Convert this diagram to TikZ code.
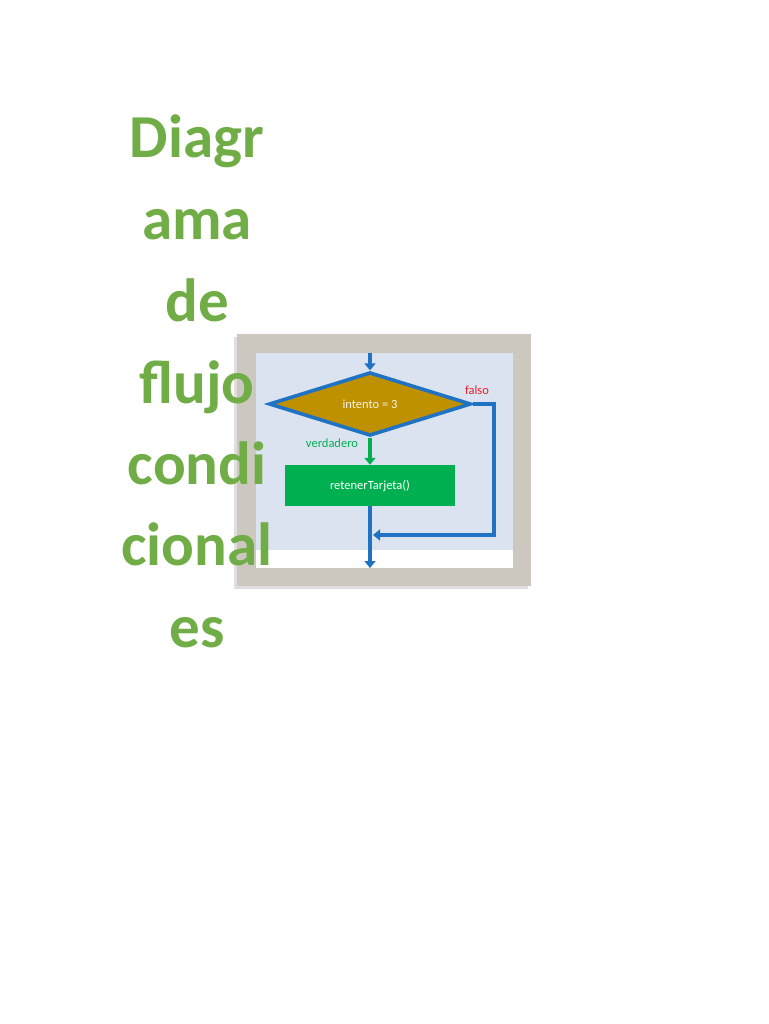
\documentclass[tikz,border=0pt]{standalone}
\usepackage{fontspec}
\setmainfont{Carlito}
\usetikzlibrary{shapes.geometric,arrows.meta,shadows}
\definecolor{titulo}{HTML}{70AD47}
\definecolor{azul}{HTML}{1F72C4}
\definecolor{oro}{HTML}{BF9000}
\definecolor{verde}{HTML}{00B050}
\definecolor{rojo}{HTML}{E8202A}
\definecolor{marco}{HTML}{CCC8C0}
\definecolor{fondo}{HTML}{DBE3F0}
\begin{document}
\begin{tikzpicture}[x=1pt,y=-1pt,%
% common options for the title lines:
linea/.style = {anchor=base, text=titulo, inner sep=0,
            font=\fontsize{61}{61}\selectfont\bfseries},
% common options for the connectors:
flecha/.style = {draw=azul, line width=3.6pt, -{Triangle[length=7pt,width=11pt]}},
% common options for the small texts:
chico/.style = {font=\fontsize{12.5}{14}\selectfont, inner sep=0}]
\useasboundingbox (0,0) rectangle (768,1024);
% picture frame
\fill[marco, drop shadow={opacity=0.25, shadow xshift=-3pt, shadow yshift=-3pt}] (237,334) rectangle (531,586);
\fill[fondo] (256,353) rectangle (513,550);
\fill[white] (256,550) rectangle (513,568);
% flow
\coordinate (entrada) at (370,353);
\coordinate (salida) at (370,568);
\coordinate (esquina) at (494,535);
\coordinate (union) at (373,535);
\node[diamond, draw=azul, line width=3.6pt, fill=oro, minimum width=202pt,
      minimum height=54pt, inner sep=0, chico, text=white!90!oro] (cond) at (370,404) {intento = 3};
\node[rectangle, fill=verde, minimum width=170pt, minimum height=41pt,
      chico, text=white] (caja) at (370,485.5) {retenerTarjeta()};
\node[chico, text=verde] (verd) at (332,443) {verdadero};
\node[chico, text=rojo] (fal) at (477,390) {falso};
\draw[flecha] (entrada) -- (cond.north);
\draw[flecha, draw=verde] (cond.south) -- (caja.north);
\draw[flecha] (caja.south) -- (salida);
\draw[flecha] (cond.east) -| (esquina) -- (union);
% title
\node[linea] (t1) at (197,158) {Diagr};
\node[linea] (t2) at (197,240) {ama};
\node[linea] (t3) at (197,321) {de};
\node[linea] (t4) at (197,403) {flujo};
\node[linea] (t5) at (197,484) {condi};
\node[linea] (t6) at (197,565) {cional};
\node[linea] (t7) at (197,647) {es};
\end{tikzpicture}
\end{document}
